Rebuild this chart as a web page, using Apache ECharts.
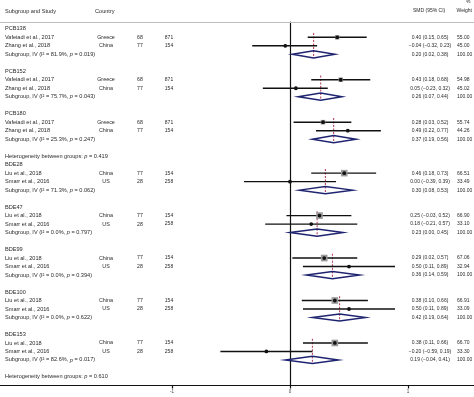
<!DOCTYPE html>
<html>
<head>
<meta charset="utf-8">
<script src="https://cdn.jsdelivr.net/npm/echarts@6/dist/echarts.min.js"></script>
<style>
html,body{margin:0;padding:0;background:#fff}
#main{width:474px;height:397px}
</style>
</head>
<body>
<div id="main"></div>
<script>
// subgroups
var groups = ['PCB138', 'PCB152', 'PCB180', 'BDE28', 'BDE47', 'BDE99', 'BDE100', 'BDE153'];
var pooledSmd = [0.20, 0.26, 0.37, 0.30, 0.23, 0.36, 0.42, 0.19];
var pooledLo = [0.02, 0.07, 0.19, 0.08, 0.00, 0.14, 0.19, -0.04];
var pooledHi = [0.38, 0.44, 0.56, 0.53, 0.45, 0.59, 0.64, 0.41];
var pooledI2 = ['81.9', '75.7', '25.3', '71.3', '0.0', '0.0', '0.0', '82.6'];
var pooledP = ['0.019', '0.043', '0.247', '0.062', '0.797', '0.394', '0.622', '0.017'];

// studies
var studyGroup = [0, 0, 1, 1, 2, 2, 3, 3, 4, 4, 5, 5, 6, 6, 7, 7];
var studyLabel = ['Vafeiadi et al., 2017', 'Zhang et al., 2018', 'Vafeiadi et al., 2017', 'Zhang et al., 2018',
  'Vafeiadi et al., 2017', 'Zhang et al., 2018', 'Liu et al., 2018', 'Smarr et al., 2016',
  'Liu et al., 2018', 'Smarr et al., 2016', 'Liu et al., 2018', 'Smarr et al., 2016',
  'Liu et al., 2018', 'Smarr et al., 2016', 'Liu et al., 2018', 'Smarr et al., 2016'];
var studyCountry = ['Greece', 'China', 'Greece', 'China', 'Greece', 'China', 'China', 'US',
  'China', 'US', 'China', 'US', 'China', 'US', 'China', 'US'];
var studyN1 = [68, 77, 68, 77, 68, 77, 77, 28, 77, 28, 77, 28, 77, 28, 77, 28];
var studyN2 = [871, 154, 871, 154, 871, 154, 154, 258, 154, 258, 154, 258, 154, 258, 154, 258];
var studySmd = [0.40, -0.04, 0.43, 0.05, 0.28, 0.49, 0.46, 0.00, 0.25, 0.18, 0.29, 0.50, 0.38, 0.50, 0.38, -0.20];
var studyLo = [0.15, -0.32, 0.18, -0.23, 0.03, 0.22, 0.18, -0.39, -0.03, -0.21, 0.02, 0.11, 0.10, 0.11, 0.11, -0.59];
var studyHi = [0.65, 0.23, 0.68, 0.32, 0.52, 0.77, 0.73, 0.39, 0.52, 0.57, 0.57, 0.89, 0.66, 0.89, 0.66, 0.19];
var studyWeight = [55.00, 45.00, 54.98, 45.02, 55.74, 44.26, 66.51, 33.49, 66.90, 33.10, 67.06, 32.94, 66.91, 33.09, 66.70, 33.30];

// heterogeneity between groups, printed after these groups
var hetAfter = [2, 7];
var hetP = ['0.419', '0.610'];

var xTicks = [-1, 0, 1];

var fontFamily = 'Liberation Sans, Arial, sans-serif';
var textColor = '#2a2a2a';

function fmt(v) {
  return (v < 0 ? '\u2212' : '') + Math.abs(v).toFixed(2);
}

// work out which row each thing goes on
var groupRow = [], studyRow = [], pooledRow = [], hetRow = [];
var r = 0;
for (var g = 0; g < groups.length; g++) {
  groupRow[g] = r++;
  for (var s = 0; s < studyGroup.length; s++) {
    if (studyGroup[s] === g) studyRow[s] = r++;
  }
  pooledRow[g] = r++;
  r++;
  var h = hetAfter.indexOf(g);
  if (h >= 0) hetRow[h] = r++;
}

var labelItems = [], countryItems = [], n1Items = [], n2Items = [], ciItems = [], weightItems = [];
groups.forEach(function(name, g) {
  labelItems.push({ row: groupRow[g], text: name });
  labelItems.push({ row: pooledRow[g], text: 'Subgroup, IV (I\u00b2 = ' + pooledI2[g] + '%, {i|p} = ' + pooledP[g] + ')' });
  ciItems.push({ row: pooledRow[g], text: fmt(pooledSmd[g]) + ' (' + fmt(pooledLo[g]) + ', ' + fmt(pooledHi[g]) + ')' });
  weightItems.push({ row: pooledRow[g], text: '100.00' });
});
studyLabel.forEach(function(name, s) {
  labelItems.push({ row: studyRow[s], text: name });
  countryItems.push({ row: studyRow[s], text: studyCountry[s] });
  n1Items.push({ row: studyRow[s], text: String(studyN1[s]) });
  n2Items.push({ row: studyRow[s], text: String(studyN2[s]) });
  ciItems.push({ row: studyRow[s], text: fmt(studySmd[s]) + ' (' + fmt(studyLo[s]) + ', ' + fmt(studyHi[s]) + ')' });
  weightItems.push({ row: studyRow[s], text: studyWeight[s].toFixed(2) });
});
hetP.forEach(function(p, h) {
  labelItems.push({ row: hetRow[h], text: 'Heterogeneity between groups: {i|p} = ' + p });
});

function textSeries(items, x, align, size) {
  return {
    type: 'custom',
    silent: true,
    z: 5,
    data: items.map(function(t) { return [0, t.row]; }),
    renderItem: function(params, api) {
      var y = api.coord([0, api.value(1)])[1];
      return {
        type: 'text',
        style: {
          text: items[params.dataIndex].text,
          x: x, y: y,
          align: align,
          verticalAlign: 'middle',
          fontSize: size,
          fontFamily: fontFamily,
          fill: textColor,
          rich: { i: { fontStyle: 'italic', fontSize: size, fontFamily: fontFamily, fill: textColor } }
        }
      };
    }
  };
}

var studyData = studySmd.map(function(v, s) {
  return [v, studyRow[s], studyLo[s], studyHi[s], studyWeight[s]];
});
var pooledData = pooledSmd.map(function(v, g) {
  return [v, pooledRow[g], pooledLo[g], pooledHi[g]];
});
var refData = pooledSmd.map(function(v, g) {
  var first = studyRow[studyGroup.indexOf(g)];
  return [v, first - 0.5, pooledRow[g] + 0.4];
});

var dom = document.getElementById('main');
var myChart = echarts.init(dom);

var option = {
  animation: false,
  backgroundColor: '#fff',
  grid: { left: 0, right: 0, top: 22, bottom: 12 },
  xAxis: [{
    type: 'value',
    min: -290 / 118,
    max: 184 / 118,
    position: 'bottom',
    axisLine: { onZero: false, lineStyle: { color: '#111', width: 1.2 } },
    axisTick: { show: true, customValues: xTicks, length: 3.5, lineStyle: { color: '#111', width: 1.2 } },
    axisLabel: { customValues: xTicks, fontSize: 4.5, color: '#444', margin: 4, fontFamily: fontFamily },
    splitLine: { show: false }
  }, {
    type: 'value',
    min: -290 / 118,
    max: 184 / 118,
    position: 'top',
    axisLine: { show: true, onZero: false, lineStyle: { color: '#bdbdbd', width: 1.2 } },
    axisTick: { show: false },
    axisLabel: { show: false },
    splitLine: { show: false }
  }],
  yAxis: {
    type: 'value',
    inverse: true,
    min: -0.8,
    max: 41.95,
    axisLine: { show: true, onZero: true, lineStyle: { color: '#111', width: 1.2 } },
    axisTick: { show: false },
    axisLabel: { show: false },
    splitLine: { show: false }
  },
  graphic: [
    { type: 'text', left: 5, top: 8, style: { text: 'Subgroup and Study', fontSize: 5.6, fontFamily: fontFamily, fill: textColor } },
    { type: 'text', left: 95, top: 8, style: { text: 'Country', fontSize: 5.6, fontFamily: fontFamily, fill: textColor } },
    { type: 'text', left: 413, top: 8, style: { text: 'SMD (95% CI)', fontSize: 5, fontFamily: fontFamily, fill: textColor } },
    { type: 'text', right: 2, top: 8, style: { text: 'Weight', fontSize: 5, fontFamily: fontFamily, fill: textColor } },
    { type: 'text', left: 466, top: -1, style: { text: '%', fontSize: 5, fontFamily: fontFamily, fill: textColor } }
  ],
  series: [
    // red dashed line at each pooled estimate
    {
      type: 'custom',
      silent: true,
      z: 2,
      data: refData,
      renderItem: function(params, api) {
        var p1 = api.coord([api.value(0), api.value(1)]);
        var p2 = api.coord([api.value(0), api.value(2)]);
        return {
          type: 'line',
          shape: { x1: p1[0], y1: p1[1], x2: p2[0], y2: p2[1] },
          style: { stroke: '#b8455f', lineWidth: 1.1, lineDash: [2, 1.5] }
        };
      }
    },
    // study CIs, boxes and points
    {
      type: 'custom',
      silent: true,
      z: 3,
      data: studyData,
      renderItem: function(params, api) {
        var c = api.coord([api.value(0), api.value(1)]);
        var lo = api.coord([api.value(2), api.value(1)]);
        var hi = api.coord([api.value(3), api.value(1)]);
        var box = Math.max(0, (api.value(4) - 30) * 0.18);
        return {
          type: 'group',
          children: [
            { type: 'line', shape: { x1: lo[0], y1: lo[1], x2: hi[0], y2: hi[1] }, style: { stroke: '#111', lineWidth: 1.4 } },
            { type: 'rect', shape: { x: c[0] - box / 2, y: c[1] - box / 2, width: box, height: box }, style: { fill: '#9a9a9a' } },
            { type: 'circle', shape: { cx: c[0], cy: c[1], r: 1.9 }, style: { fill: '#111' } }
          ]
        };
      }
    },
    // pooled diamonds
    {
      type: 'custom',
      silent: true,
      z: 3,
      data: pooledData,
      renderItem: function(params, api) {
        var c = api.coord([api.value(0), api.value(1)]);
        var lo = api.coord([api.value(2), api.value(1)]);
        var hi = api.coord([api.value(3), api.value(1)]);
        return {
          type: 'polygon',
          shape: { points: [[lo[0], lo[1]], [c[0], c[1] - 3.6], [hi[0], hi[1]], [c[0], c[1] + 3.6]] },
          style: { fill: 'none', stroke: '#1f2470', lineWidth: 1.5 }
        };
      }
    },
    textSeries(labelItems, 5, 'left', 5.6),
    textSeries(countryItems, 106, 'center', 5.4),
    textSeries(n1Items, 140, 'center', 5.2),
    textSeries(n2Items, 169, 'center', 5),
    textSeries(ciItems, 430, 'center', 5),
    textSeries(weightItems, 457, 'left', 5)
  ]
};

if (option && typeof option === 'object') {
  myChart.setOption(option, true);
}
</script>
</body>
</html>
